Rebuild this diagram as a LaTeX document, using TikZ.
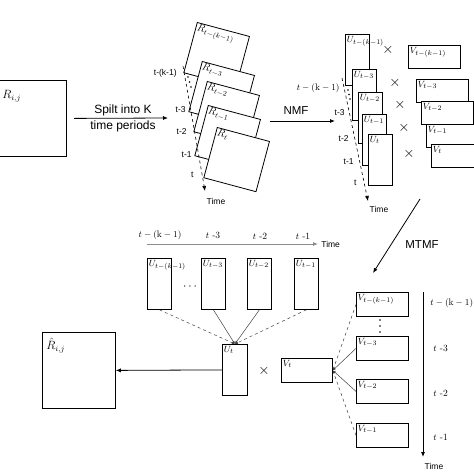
\documentclass[tikz,border=0pt]{standalone}
\usepackage{fontspec}
\setsansfont{Liberation Sans}
\usetikzlibrary{arrows.meta,positioning}

\begin{document}
\begin{tikzpicture}[
  x=1pt, y=-1pt,
  line width=0.8pt,
  arr/.style={-{Latex[length=5pt,width=4pt]}},
  sarr/.style={-{Latex[length=3pt,width=2.5pt]}, line width=0.5pt, black!75},
  rbox/.style={draw, fill=white, rotate=-15, anchor=north west, minimum width=54pt, minimum height=52pt, inner sep=0pt},
  ubox/.style={draw, fill=white, anchor=north west, minimum width=24pt, minimum height=51pt, inner sep=0pt},
  vbox/.style={draw, fill=white, anchor=north west, minimum width=52pt, minimum height=23pt, inner sep=0pt},
  lab/.style={anchor=north west, inner sep=1.5pt, font=\fontsize{9.5}{10}\selectfont},
  tlab/.style={font=\sffamily\fontsize{8.5}{9}\selectfont, inner sep=1pt},
  mlab/.style={font=\fontsize{9.5}{10}\selectfont, inner sep=1pt},
  txt/.style={font=\sffamily\fontsize{11.5}{13}\selectfont, inner sep=1pt},
  mul/.style={font=\Large, inner sep=0pt}
]
\useasboundingbox (0,0) rectangle (474,474);

% original matrix and splitting
\node[draw, minimum width=87pt, minimum height=76pt, anchor=north east] (rij) at (67,80) {};
\node[anchor=west, inner sep=0pt, font=\large] (rijl) at (2,96) {$R_{i,j}$};
\coordinate (s1) at (168,118);
\draw[arr] ([xshift=7pt]rij.east) -- (s1);
\node[txt, font=\sffamily\fontsize{12}{13}\selectfont, above=1pt of s1, xshift=-45pt] (split1) {Spilt into K};
\node[txt, font=\sffamily\fontsize{12}{13}\selectfont, below=1pt of s1, xshift=-45pt] (split2) {time periods};

% stack of time slices
\foreach \n/\x/\y/\t in {r0/197/22/{t-(k-1)}, r1/202/61/{t-3}, r2/207/81/{t-2}, r3/208/105/{t-1}, r4/217/127/t} {
  \node[rbox] (\n) at (\x,\y) {};
  \node[lab, rotate=-15, font=\fontsize{10}{11}\selectfont] (\n l) at (\n.north west) {$R_{\t}$};
}
\coordinate (ta) at (183,66);
\coordinate (tb) at (205,191);
\draw[dashed, arr, line width=0.6pt] (ta) -- (tb);
\node[tlab] (tatime) at (216,201) {Time};
\node[tlab, anchor=east] (ta0) at (178,73) {t-(k-1)};
\node[tlab, anchor=east] (ta1) at (187,110) {t-3};
\node[tlab, anchor=east] (ta2) at (188,132) {t-2};
\node[tlab, anchor=east] (ta3) at (193,155) {t-1};
\node[tlab, anchor=east] (ta4) at (195,175) {t};
\foreach \x/\y in {188/77, 189.5/82, 191/87} \fill (\x,\y) circle (0.9pt);

% NMF
\coordinate (n1) at (270,121);
\coordinate (n2) at (335,121);
\draw[arr] (n1) -- (n2);
\node[txt, above=5pt of n1, xshift=26pt] (nmf) {NMF};

% U and V factors
\foreach \n/\x/\y/\t in {u0/345/34/{t-(k-1)}, u1/352/69/{t-3}, u2/358/92/{t-2}, u3/362/114/{t-1}, u4/368/134/t} {
  \node[ubox] (\n) at (\x,\y) {};
  \node[lab] (\n l) at (\n.north west) {$U_{\t}$};
}
\coordinate (ua) at (342,78);
\coordinate (ub) at (368,201);
\draw[dashed, arr, line width=0.6pt] (ua) -- (ub);
\node[tlab] (uatime) at (379,209) {Time};
\node[mlab, anchor=east] (ua0) at (341,88) {$t-(\mathrm{k}-1)$};
\node[tlab, anchor=east] (ua1) at (346,113) {t-3};
\node[tlab, anchor=east] (ua2) at (350,139) {t-2};
\node[tlab, anchor=east] (ua3) at (355,162) {t-1};
\node[tlab, anchor=east] (ua4) at (358,183) {t};
\foreach \x/\y in {348/90, 349/94.5, 350/99} \fill (\x,\y) circle (0.9pt);

\foreach \n/\x/\y in {m0/388/50, m1/395/83, m2/400/105, m3/404/128, m4/409/154}
  \node[mul] (\n) at (\x,\y) {$\times$};

\foreach \n/\x/\y/\t in {v0/408/45/{t-(k-1)}, v1/416/79/{t-3}, v2/421/101/{t-2}, v3/426/124/{t-1}, v4/431/144/t} {
  \node[vbox] (\n) at (\x,\y) {};
  \node[lab] (\n l) at (\n.north west) {$V_{\t}$};
}

% MTMF
\coordinate (w1) at (420,199);
\coordinate (w2) at (373,273);
\draw[arr] (w1) -- (w2);
\node[txt] (mtmf) at (422,245) {MTMF};

% temporal U part
\coordinate (ba) at (147,244);
\coordinate (bb) at (318,244);
\draw[arr, black!45] (ba) -- (bb);
\node[tlab, anchor=west] (bbtime) at (320,244) {Time};
\node[mlab] (bl0) at (160,235) {$t-(\mathrm{k}-1)$};
\node[mlab] (bl1) at (213,235) {$t$ -3};
\node[mlab] (bl2) at (260,236) {$t$ -2};
\node[mlab] (bl3) at (303,236) {$t$ -1};

\foreach \n/\x/\t in {b0/147/{t-(k-1)}, b1/201/{t-3}, b2/247/{t-2}, b3/294/{t-1}} {
  \node[ubox] (\n) at (\x,258) {};
  \node[lab] (\n l) at (\n.north west) {$U_{\t}$};
}
\node[font=\large, inner sep=0pt] (bdots) at (190,287) {$\cdots$};
\node[ubox, minimum width=25pt] (ut) at (222,344) {};
\node[lab] (utl) at (ut.north west) {$U_t$};
\draw[sarr, dashed] (b0.south) -- (ut.north);
\draw[sarr] (b1.south) -- (ut.north);
\draw[sarr] (b2.south) -- (ut.north);
\draw[sarr, dashed] (b3.south) -- (ut.north);

\node[mul] (bmul) at (264,371) {$\times$};
\node[vbox, minimum width=51pt, minimum height=24pt] (vt) at (281,358) {};
\node[lab] (vtl) at (vt.north west) {$V_t$};

% temporal V part
\foreach \n/\y/\t in {c0/292/{t-(k-1)}, c1/336/{t-3}, c2/379/{t-2}, c3/423/{t-1}} {
  \node[vbox, minimum height=24pt] (\n) at (356,\y) {};
  \node[lab] (\n l) at (\n.north west) {$V_{\t}$};
}
\foreach \y in {320, 326, 332} \fill (380,\y) circle (0.9pt);
\draw[sarr, dashed] (c0.west) -- (vt.east);
\draw[sarr] (c1.west) -- (vt.east);
\draw[sarr] (c2.west) -- (vt.east);
\draw[sarr, dashed] (c3.west) -- (vt.east);

\coordinate (va) at (423,292);
\coordinate (vb) at (423,457);
\draw[arr] (va) -- (vb);
\node[tlab] (vbtime) at (434,466) {Time};
\node[mlab, anchor=west] (cl0) at (429,303) {$t-(\mathrm{k}-1)$};
\node[mlab, anchor=west] (cl1) at (432,348) {$t$ -3};
\node[mlab, anchor=west] (cl2) at (432,393) {$t$ -2};
\node[mlab, anchor=west] (cl3) at (432,437) {$t$ -1};

% reconstruction
\node[draw, minimum width=73pt, minimum height=76pt, anchor=north west] (rhat) at (42,332) {};
\node[anchor=north west, inner sep=0pt, font=\large] (rhatl) at (46,338) {$\hat{R}_{i,j}$};
\draw[arr] (ut.west) -- (rhat.east);
\end{tikzpicture}
\end{document}
